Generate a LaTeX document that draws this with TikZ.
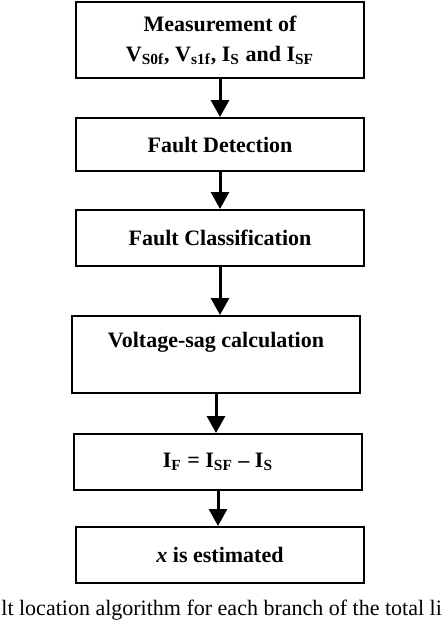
\documentclass[tikz,border=0pt]{standalone}
\usepackage{fontspec}
\setmainfont{Liberation Serif}
\usetikzlibrary{arrows.meta}
\tikzset{
	stepbox/.style={rectangle,draw,line width=1pt,minimum width=144pt,align=center,inner sep=0pt,font=\fontsize{11}{15}\selectfont\bfseries},
	directed/.style={arrows={-Triangle[length=8.5pt,width=9pt]},line width=1.5pt},
	caption/.style={anchor=base west,inner sep=0pt,font=\fontsize{11}{13}\selectfont}
	}

\begin{document}
\begin{tikzpicture}[x=0.5pt,y=-0.5pt]
		\useasboundingbox (0,0) rectangle (444,632);
		\node[stepbox,minimum height=38pt] (m) at (220,40) {Measurement of\\ V\textsubscript{S0f}, V\textsubscript{s1f}, I\textsubscript{S} and I\textsubscript{SF}};
		\node[stepbox,minimum height=26.5pt] (d) at (220,144.5) {Fault Detection};
		\node[stepbox,minimum height=28pt] (c) at (220,238) {Fault Classification};
		\node[stepbox,minimum height=38.5pt] (v) at (216,354.5) {Voltage-sag calculation\\ ~};
		\node[stepbox,minimum height=28pt] (i) at (218,462) {I\textsubscript{F} = I\textsubscript{SF} -- I\textsubscript{S}};
		\node[stepbox,minimum height=28pt] (x) at (220,555) {\textit{x} is estimated};

		\draw[directed] (m.south) -- (m.south |- d.north);
		\draw[directed] (d.south) -- (d.south |- c.north);
		\draw[directed] (c.south) -- (c.south |- v.north);
		\draw[directed] (v.south) -- (v.south |- i.north);
		\draw[directed] (i.south) -- (i.south |- x.north);

		\node[caption] (cap) at (1,615) {lt location algorithm for each branch of the total li};
	\end{tikzpicture}
\end{document}
